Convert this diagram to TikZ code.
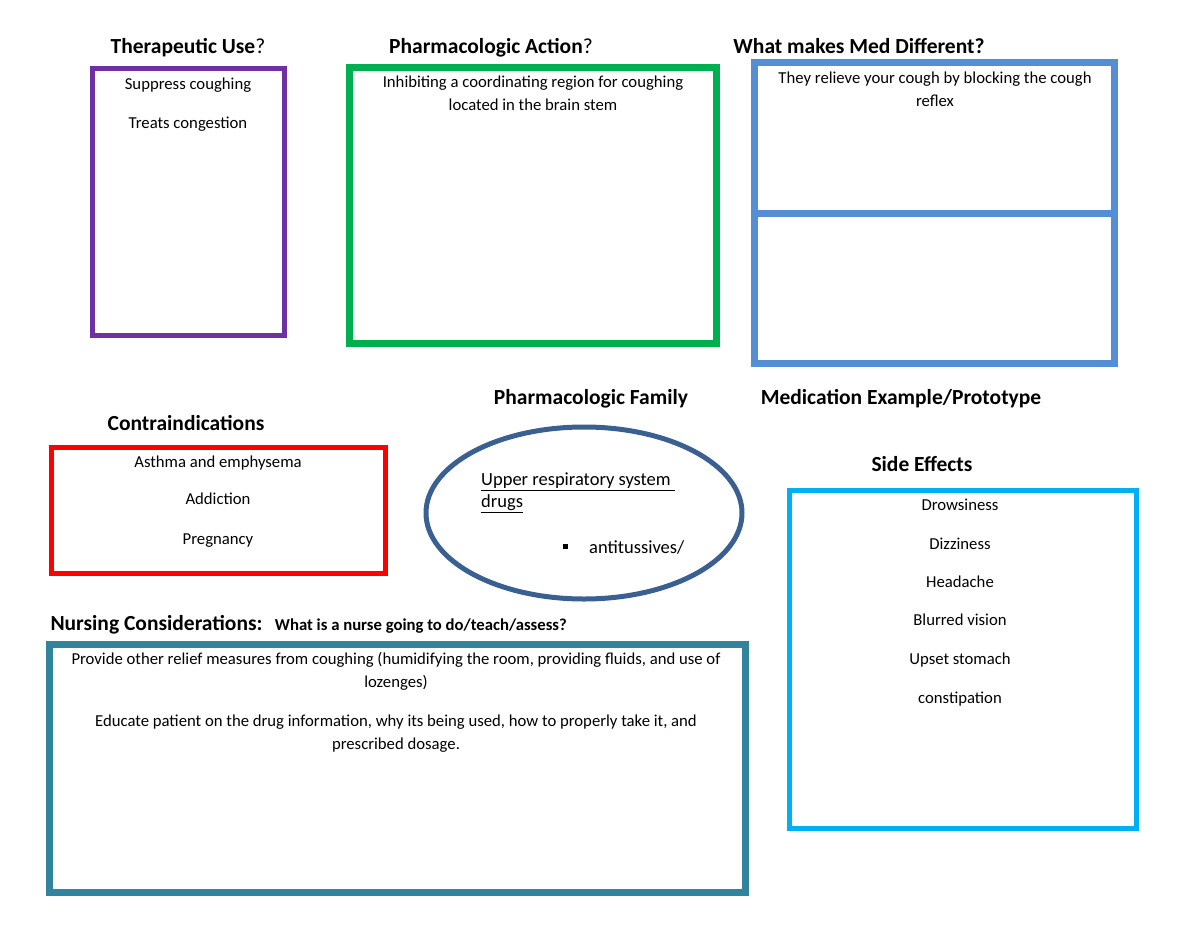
\documentclass[tikz,border=0pt]{standalone}
\usepackage{fontspec}
\setmainfont{Carlito}
\usepackage{xcolor}
\definecolor{cpur}{HTML}{7030A0}
\definecolor{cgrn}{HTML}{00B050}
\definecolor{cblu}{HTML}{558ED5}
\definecolor{cell}{HTML}{3A5F91}
\definecolor{ccy}{HTML}{00B0F0}
\definecolor{cteal}{HTML}{31849B}
\begin{document}
\begin{tikzpicture}[x=1pt,y=-1pt,
 hd/.style={font=\bfseries\fontsize{21.5}{25}\selectfont,anchor=base},
 bd/.style={font=\fontsize{16.7}{23}\selectfont,anchor=base,align=center}]
\useasboundingbox (0,0) rectangle (1200,927);
\draw[cpur,line width=5] (92.5,68.5) rectangle (284.5,335.5);
\draw[cgrn,line width=7] (349.5,67.5) rectangle (716.5,343.5);
\draw[cblu,line width=7] (754.5,62.5) rectangle (1114.5,363.5);
\draw[cblu,line width=7] (754.5,213) -- (1114.5,213);
\draw[red,line width=5] (51.5,447.5) rectangle (385.5,573.5);
\draw[cell,line width=5] (584,513) ellipse [x radius=158, y radius=86];
\draw[ccy,line width=5] (789.5,490.5) rectangle (1136.5,828.5);
\draw[cteal,line width=7] (49.5,644.5) rectangle (745.5,892.5);

\node[hd] (h1) at (188,53) {Therapeutic Use\mdseries?};
\node[hd] (h2) at (491,53) {Pharmacologic Action\mdseries?};
\node[hd] (h3) at (859,53) {What makes Med Different?};
\node[hd] (h4) at (591,404) {Pharmacologic Family};
\node[hd] (h5) at (901,404) {Medication Example/Prototype};
\node[hd] (h6) at (186,430) {Contraindications};
\node[hd] (h7) at (922,471) {Side Effects};
\node[hd,anchor=base west] (h8) at (47,630) {Nursing Considerations:\; \fontsize{16.7}{20}\selectfont What is a nurse going to do/teach/assess?};

\node[bd] (t1) at (188,89) {Suppress coughing};
\node[bd] (t2) at (188,128) {Treats congestion};
\node[bd,anchor=north] (t3) at (533,72) {Inhibiting a coordinating region for coughing\\located in the brain stem};
\node[bd,anchor=north] (t4) at (935,68) {They relieve your cough by blocking the cough\\reflex};
\node[bd] (c1) at (218,467) {Asthma and emphysema};
\node[bd] (c2) at (218,504) {Addiction};
\node[bd] (c3) at (218,544) {Pregnancy};
\node[font=\fontsize{18.5}{22}\selectfont,anchor=north west,align=left,inner sep=0] (f1) at (481,473) {\underline{Upper respiratory system\ }\\\underline{drugs}};
\fill (563,544) rectangle (568,549);
\node[font=\fontsize{18.5}{22}\selectfont,anchor=base west,inner sep=0] (f2) at (589,553) {antitussives/};
\node[bd] (s1) at (960,510) {Drowsiness};
\node[bd] (s2) at (960,549) {Dizziness};
\node[bd] (s3) at (960,587) {Headache};
\node[bd] (s4) at (960,625) {Blurred vision};
\node[bd] (s5) at (960,664) {Upset stomach};
\node[bd] (s6) at (960,703) {constipation};
\node[bd,anchor=north] (n1) at (396,649) {Provide other relief measures from coughing (humidifying the room, providing fluids, and use of\\lozenges)};
\node[bd,anchor=north] (n2) at (396,711) {Educate patient on the drug information, why its being used, how to properly take it, and\\prescribed dosage.};
\end{tikzpicture}
\end{document}
